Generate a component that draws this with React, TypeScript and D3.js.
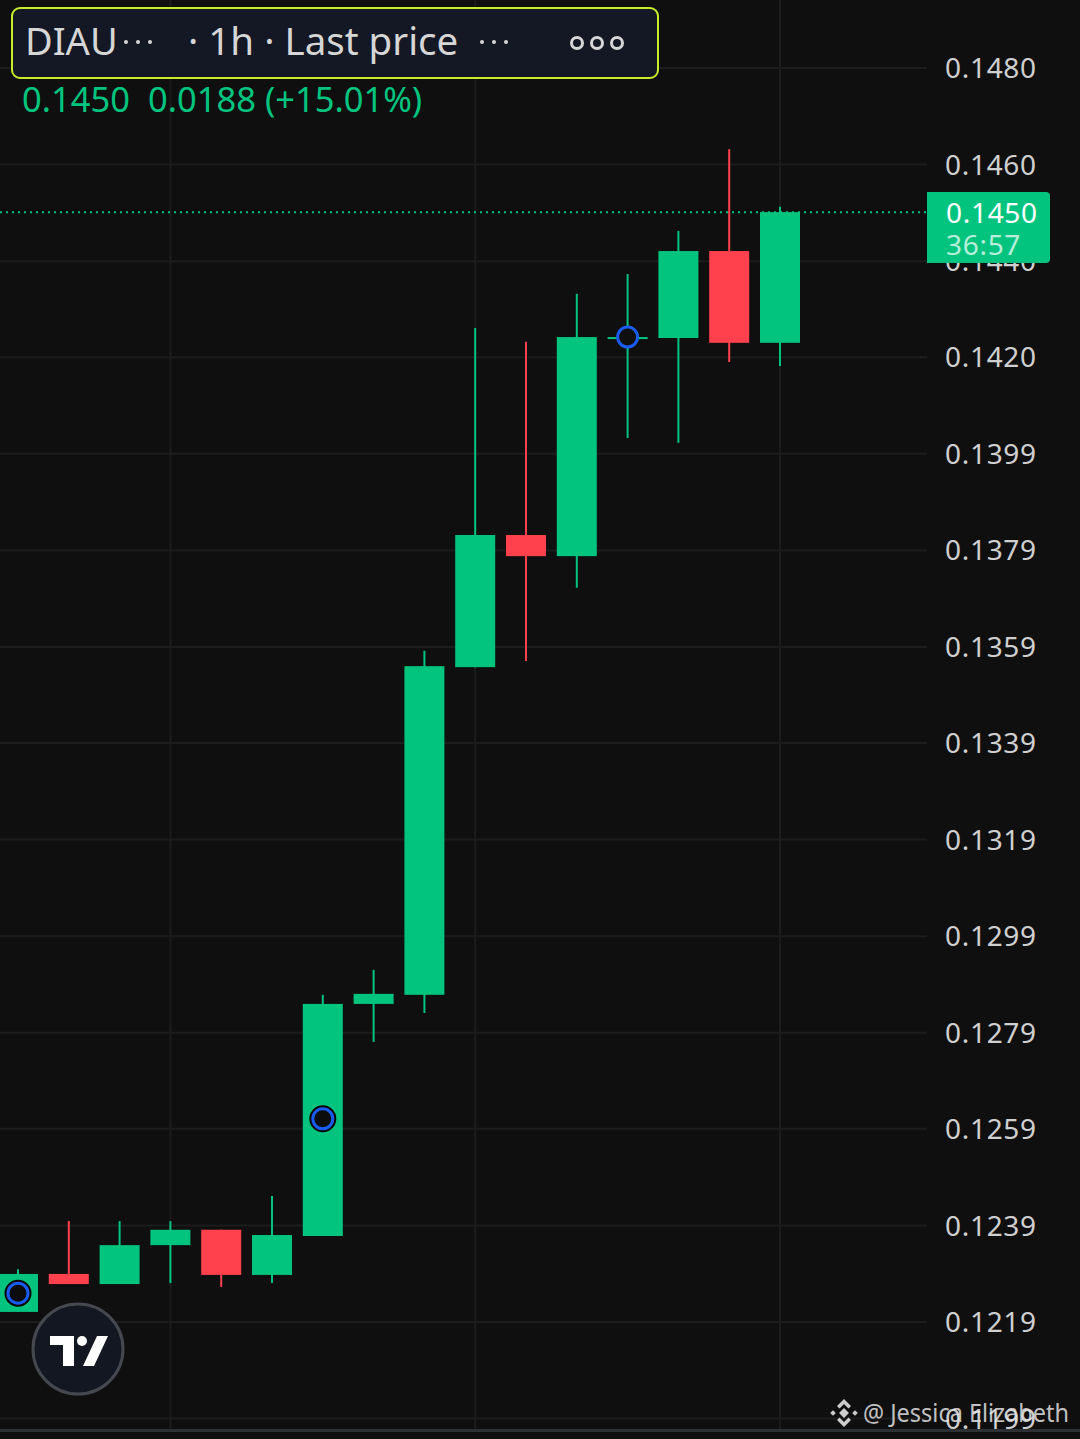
import React from "react";
import * as d3 from "d3";

// hourly candles, oldest first (first one is cut by the left edge)
const opens = [0.12211, 0.1229, 0.12269, 0.1235, 0.12382, 0.12288, 0.12369, 0.12852, 0.12871, 0.13553, 0.13828, 0.13784, 0.1424, 0.14238, 0.14419, 0.14228];
const highs = [0.123, 0.124, 0.124, 0.124, 0.12382, 0.12452, 0.12871, 0.12923, 0.13587, 0.14259, 0.1423, 0.1433, 0.14371, 0.14461, 0.14631, 0.14511];
const lows = [0.12211, 0.12269, 0.12269, 0.12271, 0.12263, 0.12271, 0.12369, 0.12773, 0.12833, 0.13553, 0.13566, 0.13718, 0.1403, 0.1402, 0.14188, 0.1418];
const closes = [0.1229, 0.12269, 0.1235, 0.12382, 0.12288, 0.12371, 0.12852, 0.12873, 0.13555, 0.13828, 0.13784, 0.1424, 0.1424, 0.14419, 0.14228, 0.145];

// blue circle markers: candle index + price
const markerIdx = [0, 6, 12];
const markerPrice = [0.1225, 0.12613, 0.1424];

const tickValues = [0.148, 0.14599, 0.14398, 0.14198, 0.13997, 0.13796, 0.13595, 0.13395, 0.13194, 0.12993, 0.12792, 0.12592, 0.12391, 0.1219, 0.11989];
const tickLabels = ["0.1480", "0.1460", "0.1440", "0.1420", "0.1399", "0.1379", "0.1359", "0.1339", "0.1319", "0.1299", "0.1279", "0.1259", "0.1239", "0.1219", "0.1199"];

const lastPrice = 0.145;
const lastLabel = "0.1450";
const countdown = "36:57";
const changeLabel = "0.0188 (+15.01%)";
const vGridIdx = [3, 9, 15];

const W = 1080;
const H = 1439;
const GREEN = "#02c47f";
const RED = "#ff414e";
const BG = "#0f0f0f";
const GRID = "#1c1c1c";
const FONT = "'Noto Sans', Roboto, sans-serif";

const App = () => {
  const x = d3.scaleLinear().domain([0, 15]).range([18, 780]);
  const y = d3.scaleLinear().domain([0.1219, 0.148]).range([1322, 68]);
  const bodyW = 40;
  const axisX = 927;

  return (
    <svg
      width={W}
      height={H}
      style={{ position: "absolute", left: 0, top: 0, display: "block", background: BG }}
      fontFamily={FONT}
    >
      <rect width={W} height={H} fill={BG} />

      {/* grid */}
      {tickValues.map((t, i) => (
        <line key={"h" + i} x1={0} x2={axisX} y1={y(t)} y2={y(t)} stroke={GRID} strokeWidth={2} />
      ))}
      {vGridIdx.map((i) => (
        <line key={"v" + i} x1={x(i)} x2={x(i)} y1={0} y2={1429} stroke={GRID} strokeWidth={2} />
      ))}

      {/* candles */}
      {opens.map((o, i) => {
        const c = closes[i];
        const col = c >= o ? GREEN : RED;
        const top = y(Math.max(o, c));
        const bot = y(Math.min(o, c));
        return (
          <g key={"c" + i}>
            <line x1={x(i)} x2={x(i)} y1={y(highs[i])} y2={y(lows[i])} stroke={col} strokeWidth={2} />
            <rect x={x(i) - bodyW / 2} y={top} width={bodyW} height={Math.max(2, bot - top)} fill={col} />
          </g>
        );
      })}

      {/* markers */}
      {markerIdx.map((m, i) => (
        <g key={"m" + i}>
          <circle cx={x(m)} cy={y(markerPrice[i])} r={11} fill={m === 12 ? BG : "#0c0c0c"} stroke="#050505" strokeWidth={m === 12 ? 0 : 5} />
          <circle cx={x(m)} cy={y(markerPrice[i])} r={10} fill="none" stroke="#1a5cf0" strokeWidth={3} />
        </g>
      ))}

      {/* last price line */}
      <line x1={0} x2={axisX} y1={y(lastPrice)} y2={y(lastPrice)} stroke={GREEN} strokeWidth={2} strokeDasharray="2 4" />

      {/* price axis labels */}
      {tickValues.map((t, i) => (
        <text key={"t" + i} x={945} y={y(t)} dy="0.36em" fontSize={28} letterSpacing={0.7} fill="#cfcfcf">
          {tickLabels[i]}
        </text>
      ))}

      {/* last price badge */}
      <path d={`M${axisX},192 H1046 a4,4 0 0 1 4,4 V259 a4,4 0 0 1 -4,4 H${axisX} Z`} fill={GREEN} />
      <text x={946} y={223} fontSize={28} letterSpacing={0.7} fill="#ffffff">{lastLabel}</text>
      <text x={946} y={255} fontSize={28} letterSpacing={0.7} fill="#ffffff" fillOpacity={0.72}>{countdown}</text>

      {/* legend */}
      <rect x={12} y={8} width={646} height={70} rx={8} fill="#141824" stroke="#c6ec2a" strokeWidth={2} />
      <text x={25} y={55} fontSize={38} fill="#d6d6d6">DIAU</text>
      {[126, 138, 150].map((cx) => (
        <circle key={"d" + cx} cx={cx} cy={42} r={2} fill="#d6d6d6" />
      ))}
      <text x={188} y={55} fontSize={38.5} fill="#d6d6d6">· 1h · Last price</text>
      {[482, 494, 506].map((cx) => (
        <circle key={"e" + cx} cx={cx} cy={42} r={2} fill="#d6d6d6" />
      ))}
      {[577, 597, 617].map((cx) => (
        <circle key={"o" + cx} cx={cx} cy={43} r={5.5} fill="none" stroke="#d6d6d6" strokeWidth={3} />
      ))}
      <text x={22} y={112} fontSize={34.5} fill={GREEN}>{lastLabel}</text>
      <text x={148} y={112} fontSize={34.5} fill={GREEN}>{changeLabel}</text>

      {/* bottom border */}
      <rect x={0} y={1429} width={W} height={3} fill="#2d3135" />

      {/* tradingview badge */}
      <circle cx={78} cy={1349} r={45} fill="#131722" stroke="#45484f" strokeWidth={3} />
      <path d="M50,1336 H74 V1366 H63 V1345 H50 Z" fill="#ffffff" />
      <circle cx={82} cy={1341} r={5} fill="#ffffff" />
      <path d="M97,1336 H108 L94,1366 H83 Z" fill="#ffffff" />

      {/* watermark */}
      <g transform="translate(844,1413)" fill="#e2e2e2" fillOpacity={0.9}>
        <rect x={-3.5} y={-3.5} width={7} height={7} transform="rotate(45)" />
        <path d="M0,-14 L7,-7 L4.5,-4.5 L0,-9 L-4.5,-4.5 L-7,-7 Z" />
        <path d="M0,14 L7,7 L4.5,4.5 L0,9 L-4.5,4.5 L-7,7 Z" />
        <rect x={-2} y={-2} width={4} height={4} transform="translate(-11,0) rotate(45)" />
        <rect x={-2} y={-2} width={4} height={4} transform="translate(11,0) rotate(45)" />
      </g>
      <text x={863} y={1422} fontSize={25} textLength={206} lengthAdjust="spacingAndGlyphs" fill="#e2e2e2" fillOpacity={0.85}>
        @ Jessica Elizabeth
      </text>
    </svg>
  );
};

export default App;
